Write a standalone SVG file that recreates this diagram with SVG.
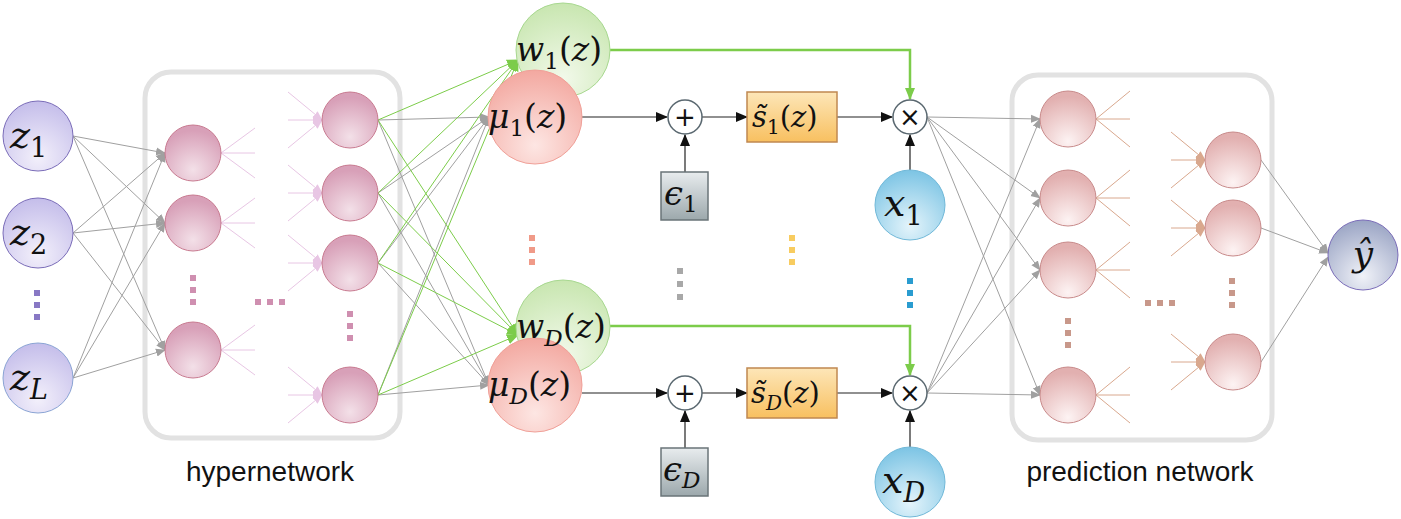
<svg xmlns="http://www.w3.org/2000/svg" width="1401" height="519" viewBox="0 0 1401 519">
<style>
.m{font-family:"DejaVu Serif","Liberation Serif",serif;font-style:italic;fill:#111}
.mr{font-family:"DejaVu Sans","Liberation Sans",sans-serif;fill:#111}
.lbl{font-family:"Liberation Sans",Arial,sans-serif;font-size:28px;fill:#111}
.g{stroke:#a0a0a0;stroke-width:1;fill:none}
.gr{stroke:#7ccc4a;stroke-width:1;fill:none}
.k{stroke:#222;stroke-width:1.2;fill:none}
.box{fill:none;stroke:#e2e2e2;stroke-width:5}
.hn{fill:url(#pink);stroke:#c87a90;stroke-width:1}
.pn{fill:url(#rose);stroke:#c88a8a;stroke-width:1}
.st1{stroke:#e8c6e4;stroke-width:1}
.st2{stroke:#d9a88e;stroke-width:1}
</style>
<defs>
<radialGradient id="pink" cx="0.5" cy="0.8" r="0.7"><stop offset="0" stop-color="#f3e0e8"/><stop offset="1" stop-color="#d8a0b8"/></radialGradient>
<radialGradient id="rose" cx="0.5" cy="0.9" r="0.8"><stop offset="0" stop-color="#fdf3f3"/><stop offset="1" stop-color="#e2b0b0"/></radialGradient>
<radialGradient id="purp" cx="0.5" cy="0.8" r="0.8"><stop offset="0" stop-color="#f3f0fb"/><stop offset="1" stop-color="#c4bdea"/></radialGradient>
<radialGradient id="red" cx="0.5" cy="0.8" r="0.8"><stop offset="0" stop-color="#fde6e3"/><stop offset="1" stop-color="#f3a8a0"/></radialGradient>
<radialGradient id="grn" cx="0.5" cy="0.8" r="0.8"><stop offset="0" stop-color="#f2f9ea"/><stop offset="1" stop-color="#c8e6b0"/></radialGradient>
<radialGradient id="blue" cx="0.5" cy="0.8" r="0.8"><stop offset="0" stop-color="#e4f4fb"/><stop offset="1" stop-color="#7cc4e4"/></radialGradient>
<radialGradient id="yh" cx="0.5" cy="0.8" r="0.8"><stop offset="0" stop-color="#f0f2f8"/><stop offset="1" stop-color="#9aa4c4"/></radialGradient>
<linearGradient id="org" x1="0" y1="0" x2="0" y2="1"><stop offset="0" stop-color="#fde6b8"/><stop offset="1" stop-color="#f8c060"/></linearGradient>
<linearGradient id="eps" x1="0" y1="0" x2="0" y2="1"><stop offset="0" stop-color="#e8ecee"/><stop offset="1" stop-color="#9ca8ac"/></linearGradient>
<marker id="ag" markerWidth="10" markerHeight="10" refX="9" refY="5" orient="auto" markerUnits="userSpaceOnUse"><path d="M0,1 L10,5 L0,9 Z" fill="#a0a0a0"/></marker>
<marker id="ak" markerWidth="12" markerHeight="12" refX="11" refY="6" orient="auto" markerUnits="userSpaceOnUse"><path d="M0,1 L12,6 L0,11 Z" fill="#111"/></marker>
<marker id="agr" markerWidth="12" markerHeight="12" refX="11" refY="6" orient="auto" markerUnits="userSpaceOnUse"><path d="M0,1 L12,6 L0,11 Z" fill="#7ccc4a"/></marker>
<marker id="ap" markerWidth="10" markerHeight="10" refX="9" refY="5" orient="auto" markerUnits="userSpaceOnUse"><path d="M0,1 L10,5 L0,9 Z" fill="#e8c6e4"/></marker>
<marker id="ab" markerWidth="10" markerHeight="10" refX="9" refY="5" orient="auto" markerUnits="userSpaceOnUse"><path d="M0,1 L10,5 L0,9 Z" fill="#d9a88e"/></marker>
</defs>

<rect class="box" x="145" y="72" width="255" height="366" rx="26"/>
<rect class="box" x="1012" y="75" width="260" height="365" rx="26"/>

<g id="connectors">
<g marker-end="url(#ag)" class="g">
<line x1="73" y1="136" x2="165" y2="153"/><line x1="73" y1="136" x2="165" y2="223"/><line x1="73" y1="136" x2="165" y2="350"/>
<line x1="73" y1="233" x2="165" y2="153"/><line x1="73" y1="233" x2="165" y2="223"/><line x1="73" y1="233" x2="165" y2="350"/>
<line x1="73" y1="378" x2="165" y2="153"/><line x1="73" y1="378" x2="165" y2="223"/><line x1="73" y1="378" x2="165" y2="350"/>
<line x1="378" y1="120" x2="489" y2="117"/><line x1="378" y1="193" x2="489" y2="117"/><line x1="378" y1="263" x2="489" y2="117"/><line x1="378" y1="395" x2="489" y2="117"/>
<line x1="378" y1="120" x2="489" y2="385"/><line x1="378" y1="193" x2="489" y2="385"/><line x1="378" y1="263" x2="489" y2="385"/><line x1="378" y1="395" x2="489" y2="385"/>
<line x1="927" y1="117" x2="1040" y2="119"/><line x1="927" y1="117" x2="1040" y2="198"/><line x1="927" y1="117" x2="1040" y2="270"/><line x1="927" y1="117" x2="1040" y2="395"/>
<line x1="927" y1="393" x2="1040" y2="119"/><line x1="927" y1="393" x2="1040" y2="198"/><line x1="927" y1="393" x2="1040" y2="270"/><line x1="927" y1="393" x2="1040" y2="395"/>
<line x1="1261" y1="160" x2="1328" y2="253"/><line x1="1261" y1="228" x2="1328" y2="253"/><line x1="1261" y1="362" x2="1328" y2="257"/>
</g>
<g marker-end="url(#agr)" class="gr">
<line x1="378" y1="120" x2="518" y2="60"/><line x1="378" y1="193" x2="518" y2="60"/><line x1="378" y1="263" x2="518" y2="60"/><line x1="378" y1="395" x2="518" y2="60"/>
<line x1="378" y1="120" x2="518" y2="335"/><line x1="378" y1="193" x2="518" y2="335"/><line x1="378" y1="263" x2="518" y2="335"/><line x1="378" y1="395" x2="518" y2="335"/>
</g>
<g class="gr" style="stroke-width:2.5" marker-end="url(#agr)">
<polyline points="610,50 910,50 910,99"/><polyline points="610,326 910,326 910,375"/>
</g>
<g class="k" marker-end="url(#ak)">
<line x1="582" y1="117" x2="667" y2="117"/><line x1="702" y1="117" x2="747" y2="117"/><line x1="837" y1="117" x2="892" y2="117"/>
<line x1="685" y1="172" x2="685" y2="135"/><line x1="910" y1="170" x2="910" y2="135"/>
<line x1="582" y1="393" x2="667" y2="393"/><line x1="702" y1="393" x2="747" y2="393"/><line x1="837" y1="393" x2="892" y2="393"/>
<line x1="685" y1="448" x2="685" y2="411"/><line x1="910" y1="447" x2="910" y2="411"/>
</g>
<g class="st1">
<path d="M221,153 L255,128 M221,153 L255,153 M221,153 L255,178 M221,223 L255,198 M221,223 L255,223 M221,223 L255,248 M221,350 L255,325 M221,350 L255,350 M221,350 L255,375"/>
</g>
<g class="st1" marker-end="url(#ap)">
<line x1="288" y1="92" x2="322" y2="120"/><line x1="288" y1="120" x2="322" y2="120"/><line x1="288" y1="148" x2="322" y2="120"/>
<line x1="288" y1="165" x2="322" y2="193"/><line x1="288" y1="193" x2="322" y2="193"/><line x1="288" y1="221" x2="322" y2="193"/>
<line x1="288" y1="235" x2="322" y2="263"/><line x1="288" y1="263" x2="322" y2="263"/><line x1="288" y1="291" x2="322" y2="263"/>
<line x1="288" y1="367" x2="322" y2="395"/><line x1="288" y1="395" x2="322" y2="395"/><line x1="288" y1="423" x2="322" y2="395"/>
</g>
<g class="st2">
<path d="M1096,119 L1130,91 M1096,119 L1130,119 M1096,119 L1130,147 M1096,198 L1130,170 M1096,198 L1130,198 M1096,198 L1130,226 M1096,270 L1130,242 M1096,270 L1130,270 M1096,270 L1130,298 M1096,395 L1130,367 M1096,395 L1130,395 M1096,395 L1130,423"/>
</g>
<g class="st2" marker-end="url(#ab)">
<line x1="1171" y1="132" x2="1205" y2="160"/><line x1="1171" y1="160" x2="1205" y2="160"/><line x1="1171" y1="188" x2="1205" y2="160"/>
<line x1="1171" y1="200" x2="1205" y2="228"/><line x1="1171" y1="228" x2="1205" y2="228"/><line x1="1171" y1="256" x2="1205" y2="228"/>
<line x1="1171" y1="334" x2="1205" y2="362"/><line x1="1171" y1="362" x2="1205" y2="362"/><line x1="1171" y1="390" x2="1205" y2="362"/>
</g>
</g>

<g id="z1"><circle cx="38" cy="136" r="35" fill="url(#purp)" stroke="#7a6cb8"/><text class="m" x="10" y="148" font-size="38">z<tspan font-style="normal" font-size="27" dy="9">1</tspan></text></g>
<g id="z2"><circle cx="38" cy="233" r="35" fill="url(#purp)" stroke="#7a6cb8"/><text class="m" x="10" y="245" font-size="38">z<tspan font-style="normal" font-size="27" dy="9">2</tspan></text></g>
<g id="zL"><circle cx="38" cy="378" r="35" fill="url(#purp)" stroke="#8aa4d4"/><text class="m" x="10" y="390" font-size="38">z<tspan font-size="27" dy="9">L</tspan></text></g>

<g id="h1"><circle class="hn" cx="193" cy="153" r="28"/><circle class="hn" cx="193" cy="223" r="28"/><circle class="hn" cx="193" cy="350" r="28"/></g>
<g id="h2"><circle class="hn" cx="350" cy="120" r="28"/><circle class="hn" cx="350" cy="193" r="28"/><circle class="hn" cx="350" cy="263" r="28"/><circle class="hn" cx="350" cy="395" r="28"/></g>

<g id="dots">
<g fill="#8878c4"><rect x="34" y="290" width="6" height="6"/><rect x="34" y="302" width="6" height="6"/><rect x="34" y="314" width="6" height="6"/></g>
<g fill="#cf8fb0"><rect x="190" y="275" width="6" height="6"/><rect x="190" y="287" width="6" height="6"/><rect x="190" y="299" width="6" height="6"/>
<rect x="255" y="299" width="6" height="6"/><rect x="267" y="299" width="6" height="6"/><rect x="279" y="299" width="6" height="6"/>
<rect x="347" y="311" width="6" height="6"/><rect x="347" y="323" width="6" height="6"/><rect x="347" y="335" width="6" height="6"/></g>
<g fill="#f09a88"><rect x="529" y="235" width="6" height="6"/><rect x="529" y="247" width="6" height="6"/><rect x="529" y="259" width="6" height="6"/></g>
<g fill="#a8a8a8"><rect x="677" y="268" width="6" height="6"/><rect x="677" y="281" width="6" height="6"/><rect x="677" y="294" width="6" height="6"/></g>
<g fill="#f8cc60"><rect x="789" y="235" width="6" height="6"/><rect x="789" y="247" width="6" height="6"/><rect x="789" y="259" width="6" height="6"/></g>
<g fill="#2a9cd0"><rect x="907" y="278" width="6" height="6"/><rect x="907" y="290" width="6" height="6"/><rect x="907" y="302" width="6" height="6"/></g>
<g fill="#c8988a"><rect x="1065" y="318" width="6" height="6"/><rect x="1065" y="330" width="6" height="6"/><rect x="1065" y="342" width="6" height="6"/>
<rect x="1145" y="300" width="6" height="6"/><rect x="1157" y="300" width="6" height="6"/><rect x="1169" y="300" width="6" height="6"/>
<rect x="1229" y="278" width="6" height="6"/><rect x="1229" y="290" width="6" height="6"/><rect x="1229" y="302" width="6" height="6"/></g>
</g>

<g id="w1"><circle cx="563" cy="50" r="47" fill="url(#grn)" stroke="#a8d890"/></g>
<g id="mu1"><circle cx="535" cy="117" r="47" fill="url(#red)" stroke="#f0a098"/><text class="m" x="488" y="128" font-size="33">μ<tspan font-style="normal" font-size="23" dy="8">1</tspan><tspan font-style="normal" dy="-8">(</tspan>z<tspan font-style="normal">)</tspan></text></g>
<text class="m" x="516" y="61" font-size="33">w<tspan font-style="normal" font-size="23" dy="8">1</tspan><tspan font-style="normal" dy="-8">(</tspan>z<tspan font-style="normal">)</tspan></text>
<g id="wD"><circle cx="563" cy="327" r="47" fill="url(#grn)" stroke="#a8d890"/></g>
<g id="muD"><circle cx="535" cy="385" r="47" fill="url(#red)" stroke="#f0a098"/><text class="m" x="488" y="396" font-size="33">μ<tspan font-size="23" dy="8">D</tspan><tspan font-style="normal" dy="-8">(</tspan>z<tspan font-style="normal">)</tspan></text></g>
<text class="m" x="516" y="338" font-size="33">w<tspan font-size="23" dy="8">D</tspan><tspan font-style="normal" dy="-8">(</tspan>z<tspan font-style="normal">)</tspan></text>

<g id="plus1"><circle cx="685" cy="117" r="17" fill="#fff" stroke="#5a6870" stroke-width="1.5"/><text class="mr" x="685" y="126" font-size="26" text-anchor="middle">+</text></g>
<g id="plusD"><circle cx="685" cy="393" r="17" fill="#fff" stroke="#5a6870" stroke-width="1.5"/><text class="mr" x="685" y="402" font-size="26" text-anchor="middle">+</text></g>
<g id="times1"><circle cx="910" cy="117" r="17" fill="#fff" stroke="#5a6870" stroke-width="1.5"/><text class="mr" x="910" y="126" font-size="26" text-anchor="middle">×</text></g>
<g id="timesD"><circle cx="910" cy="393" r="17" fill="#fff" stroke="#5a6870" stroke-width="1.5"/><text class="mr" x="910" y="402" font-size="26" text-anchor="middle">×</text></g>

<g id="s1"><rect x="747" y="92" width="90" height="50" fill="url(#org)" stroke="#c08850" stroke-width="1.5"/><text class="m" x="752" y="127" font-size="29">s̃<tspan font-style="normal" font-size="20" dy="7">1</tspan><tspan font-style="normal" dy="-7">(</tspan>z<tspan font-style="normal">)</tspan></text></g>
<g id="sD"><rect x="747" y="368" width="90" height="50" fill="url(#org)" stroke="#c08850" stroke-width="1.5"/><text class="m" x="751" y="403" font-size="29">s̃<tspan font-size="20" dy="7">D</tspan><tspan font-style="normal" dy="-7">(</tspan>z<tspan font-style="normal">)</tspan></text></g>

<g id="eps1"><rect x="661" y="172" width="47" height="48" fill="url(#eps)" stroke="#6a7478" stroke-width="1.5"/><text class="m" x="664" y="205" font-size="34">ϵ<tspan font-style="normal" font-size="23" dy="7">1</tspan></text></g>
<g id="epsD"><rect x="661" y="448" width="47" height="48" fill="url(#eps)" stroke="#6a7478" stroke-width="1.5"/><text class="m" x="663" y="481" font-size="34">ϵ<tspan font-size="23" dy="7">D</tspan></text></g>

<g id="x1"><circle cx="910" cy="205" r="35" fill="url(#blue)" stroke="#70b8d8"/><text class="m" x="884" y="216" font-size="38">x<tspan font-style="normal" font-size="27" dy="9">1</tspan></text></g>
<g id="xD"><circle cx="910" cy="482" r="35" fill="url(#blue)" stroke="#70b8d8"/><text class="m" x="882" y="493" font-size="38">x<tspan font-size="27" dy="9">D</tspan></text></g>

<g id="p1"><circle class="pn" cx="1068" cy="119" r="28"/><circle class="pn" cx="1068" cy="198" r="28"/><circle class="pn" cx="1068" cy="270" r="28"/><circle class="pn" cx="1068" cy="395" r="28"/></g>
<g id="p2"><circle class="pn" cx="1233" cy="160" r="28"/><circle class="pn" cx="1233" cy="228" r="28"/><circle class="pn" cx="1233" cy="362" r="28"/></g>

<g id="yhat"><circle cx="1363" cy="255" r="35" fill="url(#yh)" stroke="#7a6cb8"/><text class="m" x="1363" y="266" font-size="36" text-anchor="middle">ŷ</text></g>

<text class="lbl" x="270" y="481" text-anchor="middle">hypernetwork</text>
<text class="lbl" x="1140" y="481" text-anchor="middle">prediction network</text>
</svg>
